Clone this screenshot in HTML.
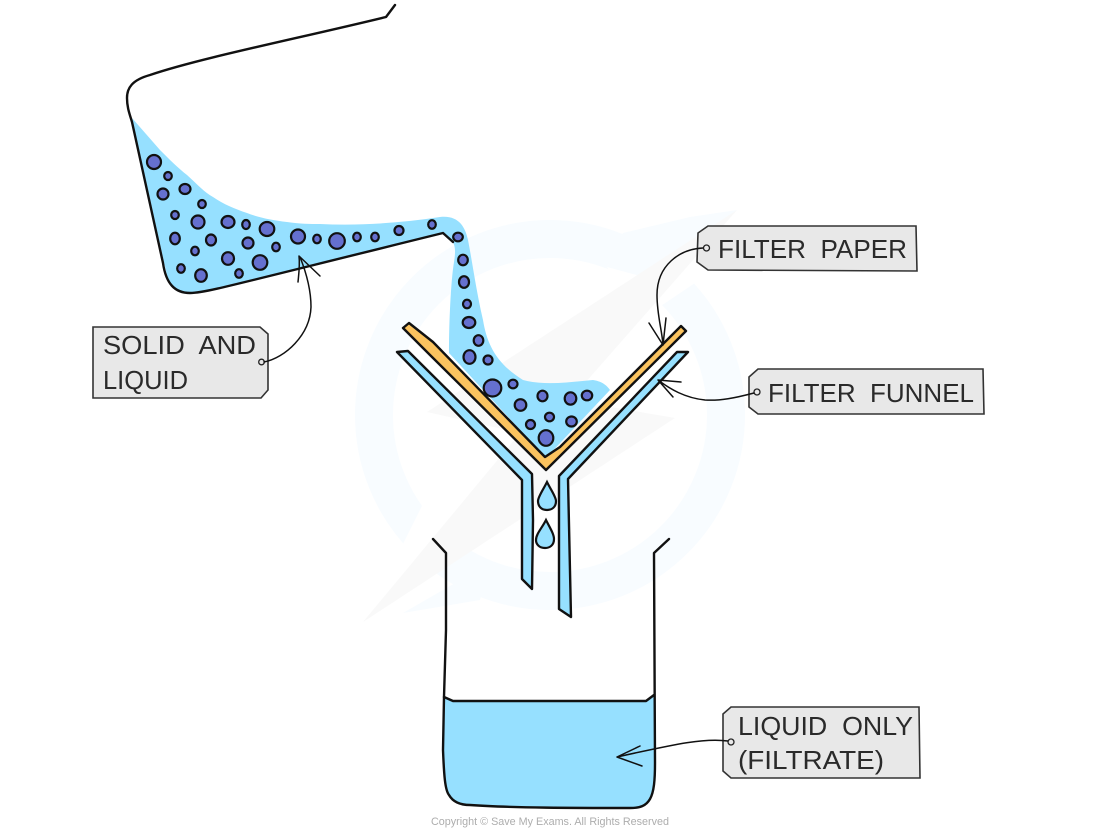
<!DOCTYPE html>
<html><head><meta charset="utf-8"><style>
html,body{margin:0;padding:0;background:#fff}
svg{display:block}
.o{fill:none;stroke:#111;stroke-width:2.4;stroke-linejoin:round;stroke-linecap:round}
.a{fill:none;stroke:#111;stroke-width:1.5;stroke-linejoin:round;stroke-linecap:round}
.t{fill:#e8e8e8;stroke:#333;stroke-width:1.6}
.h{fill:none;stroke:#222;stroke-width:1.3}
text{font-family:"Liberation Sans",sans-serif}
.l{font-size:26px;fill:#2a2a2a}
.p ellipse{fill:#6570cf;stroke:#111;stroke-width:2.2}
</style></head><body>
<svg width="1100" height="831" viewBox="0 0 1100 831" xmlns="http://www.w3.org/2000/svg">
<circle cx="550" cy="415" r="176" fill="none" stroke="#f8fcff" stroke-width="38"/>
<polygon points="395,560 425,500 480,457 520,433 363,622" fill="#fff"/>
<polygon points="607,267 623,233 737,210 695,283 640,320" fill="#fff"/>
<polygon points="607,267 623,233 690,217 737,210 640,276" fill="#f8fcff"/>
<polygon points="403,613 490,563 480,600" fill="#f8fcff"/>
<polygon points="737,210 427,412 520,433 363,622 675,418 570,400" fill="#f9f9f9"/>

<path d="M132,118 L160,150 C170,160 178,168 187,175 C197,184 204,192 213,197 C223,204 235,209 247,213 C260,218 272,220 287,222 C300,224 310,224 320,224 C360,226 400,223 440,217 C458,215 465,226 468,240 C472,260 476,290 483,320 C487,345 497,364 523,380 C545,386 570,382 593,380 C600,381 606,384 610,390 L546,458 L449,353 C449,320 451,280 454,262 C456,250 455,245 452,241 L443,233 L200,292 C180,296 172,290 168,280 Z" fill="#96e0ff"/>
<path class="o" d="M395,5 L386,17 C300,38 200,58 150,75 C132,80 127,88 127,98 C127,108 130,115 132,122 L163,263 C166,284 175,293 190,293 C205,293 220,288 443,233 L453,242"/>

<polygon points="403,328 409,323 433,342 545,457 560,447 681,326 686,331 546,470 430,355" fill="#fbc35f" stroke="#111" stroke-width="2.4" stroke-linejoin="round"/>
<polygon points="397,352 408,351 532,474 533,520 532,589 522,579 522,480" fill="#96e0ff" stroke="#111" stroke-width="2.4" stroke-linejoin="round"/>
<polygon points="688,352 677,352 559,476 559,609 571,617 568,479" fill="#96e0ff" stroke="#111" stroke-width="2.4" stroke-linejoin="round"/>

<path d="M547,482 C551,490 556,497 556,501 C556,507 552,510 547,510 C541,510 538,506 538,501 C538,497 543,490 547,482 Z" fill="#96e0ff" stroke="#111" stroke-width="2.2"/>
<path d="M546,520 C550,528 554,534 554,539 C554,545 550,548 545,548 C539,548 536,544 536,540 C536,534 542,528 546,520 Z" fill="#96e0ff" stroke="#111" stroke-width="2.2"/>

<path d="M444,698 L453,701 L646,701 L654,695 L655,763 C655,785 654,797 648,803 C644,808 638,808 630,808 C580,808 510,808 470,805 C455,803 449,797 447,790 C443,775 443,750 444,698 Z" fill="#96e0ff"/>
<path class="o" d="M433,539 L446,553 L446,630 L444,697 L443,750 C444,775 445,790 449,795 C453,802 460,805 470,805 C510,808 580,808 630,808 C640,808 646,806 650,799 C654,792 655,780 655,763 L654,553 L669,539"/>
<path class="o" d="M444,697 L453,701 L646,701 L654,695"/>

<g class="p">
<ellipse cx="154" cy="162" rx="7" ry="7"/><ellipse cx="168" cy="176" rx="3.8" ry="4"/><ellipse cx="163" cy="194" rx="5.5" ry="5.500"/><ellipse cx="185" cy="189" rx="5.5" ry="5"/><ellipse cx="202" cy="204" rx="3.8" ry="4"/><ellipse cx="175" cy="215" rx="3.8" ry="4"/><ellipse cx="198" cy="222" rx="6.5" ry="6.5"/><ellipse cx="228" cy="222" rx="6.5" ry="6"/><ellipse cx="246" cy="224.500" rx="3.800" ry="4.500"/><ellipse cx="267" cy="229" rx="7.300" ry="7"/><ellipse cx="175" cy="238.500" rx="4.800" ry="5.800"/><ellipse cx="211" cy="240" rx="5" ry="5.500"/><ellipse cx="195" cy="251" rx="3.800" ry="4.300"/><ellipse cx="248" cy="243" rx="5.500" ry="5.500"/><ellipse cx="276" cy="247" rx="3.800" ry="4.300"/><ellipse cx="228" cy="258.500" rx="6" ry="6.300"/><ellipse cx="260" cy="262.500" rx="7.300" ry="7.300"/><ellipse cx="181" cy="268.500" rx="3.800" ry="4.300"/><ellipse cx="201" cy="275.500" rx="5.800" ry="6.300"/><ellipse cx="239" cy="273.500" rx="3.800" ry="4.300"/><ellipse cx="298" cy="236.500" rx="7" ry="7"/><ellipse cx="317" cy="239" rx="3.800" ry="4.300"/><ellipse cx="337" cy="241" rx="7.800" ry="7.800"/><ellipse cx="357" cy="237" rx="3.800" ry="4.300"/><ellipse cx="375" cy="237" rx="3.800" ry="4.300"/><ellipse cx="399" cy="230.500" rx="4.500" ry="4.500"/><ellipse cx="432" cy="224.500" rx="3.800" ry="4.300"/>
<ellipse cx="458" cy="237" rx="4.800" ry="4.300"/><ellipse cx="463" cy="260" rx="4.800" ry="5.300"/><ellipse cx="464" cy="282" rx="5" ry="5.800"/><ellipse cx="467" cy="304" rx="4" ry="4.300"/><ellipse cx="469" cy="322.500" rx="6.300" ry="5.500"/><ellipse cx="478.500" cy="340.500" rx="4.800" ry="5.300"/><ellipse cx="488" cy="360" rx="4.500" ry="4.500"/><ellipse cx="469.500" cy="357" rx="6" ry="6.800"/><ellipse cx="492.500" cy="388" rx="8.800" ry="8.500"/><ellipse cx="513" cy="384" rx="4.500" ry="4.300"/><ellipse cx="520.500" cy="405" rx="5.800" ry="5.800"/><ellipse cx="542.500" cy="396" rx="5" ry="5.300"/><ellipse cx="570.500" cy="398.500" rx="5.800" ry="6.200"/><ellipse cx="587" cy="395.500" rx="5.200" ry="4.800"/><ellipse cx="549.500" cy="417" rx="4.500" ry="4.300"/><ellipse cx="571.500" cy="421.500" rx="5.300" ry="5"/><ellipse cx="530.500" cy="424.500" rx="4.500" ry="4.500"/><ellipse cx="546" cy="438" rx="7.300" ry="7.800"/>
</g>

<polygon class="t" points="93,327 260,327 268,334 268,390 261,398 93,398"/>
<polygon class="t" points="708,226 916,226 917,271 708,270 697,262 698,233"/>
<polygon class="t" points="758,369 983,369 984,414 758,414 749,407 749,377"/>
<polygon class="t" points="731,707 919,707 920,778 731,778 723,771 723,714"/>

<circle class="h" cx="261.500" cy="362" r="2.800"/><circle class="h" cx="706.500" cy="248" r="3"/><circle class="h" cx="757" cy="392" r="3"/><circle class="h" cx="731" cy="742" r="3"/>

<text class="l" x="103" y="354" textLength="153" lengthAdjust="spacingAndGlyphs" xml:space="preserve">SOLID  AND</text>
<text class="l" x="103" y="389" textLength="85" lengthAdjust="spacingAndGlyphs">LIQUID</text>
<text class="l" x="718" y="258" textLength="189" lengthAdjust="spacingAndGlyphs" xml:space="preserve">FILTER  PAPER</text>
<text class="l" x="768" y="402" textLength="206" lengthAdjust="spacingAndGlyphs" xml:space="preserve">FILTER  FUNNEL</text>
<text class="l" x="738" y="735" textLength="175" lengthAdjust="spacingAndGlyphs" xml:space="preserve">LIQUID  ONLY</text>
<text class="l" x="738" y="769" textLength="146" lengthAdjust="spacingAndGlyphs">(FILTRATE)</text>

<path class="a" d="M264,362 C285,358 310,335 311,307 C311,290 306,272 300,257 M298,282 C299,272 300,265 299,256 L320,276"/>
<path class="a" d="M703,248 C680,249 657,265 657,295 C657,315 662,330 663,345 M649,323 L663,345 L666,318"/>
<path class="a" d="M754,393 C735,398 720,401 705,400 C685,398 670,389 658,380 M681,382 L658,380 L673,397"/>
<path class="a" d="M728,741 C705,738 680,743 617,757 M640,746 L617,757 L642,766"/>

<text x="550" y="825" text-anchor="middle" font-size="11" fill="#adadad" textLength="238" lengthAdjust="spacingAndGlyphs">Copyright © Save My Exams. All Rights Reserved</text>
</svg>
</body></html>
